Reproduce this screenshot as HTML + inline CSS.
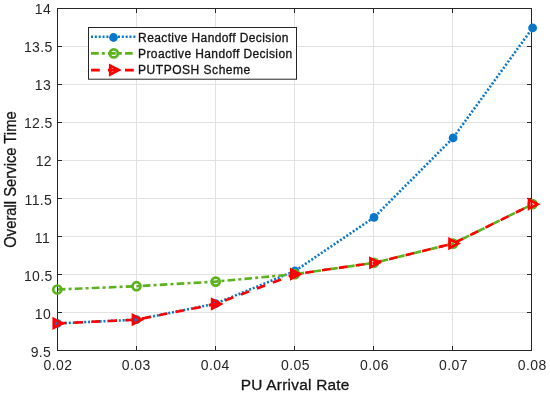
<!DOCTYPE html>
<html><head><meta charset="utf-8"><style>html,body{margin:0;padding:0;background:#fff;overflow:hidden}svg{display:block}</style></head>
<body><svg width="550" height="394" viewBox="0 0 550 394"><rect width="550" height="394" fill="#fff"/><path d="M136.50 8.5V350.5 M215.50 8.5V350.5 M294.50 8.5V350.5 M373.50 8.5V350.5 M452.50 8.5V350.5 M57.5 312.50H531.5 M57.5 274.50H531.5 M57.5 236.50H531.5 M57.5 198.50H531.5 M57.5 160.50H531.5 M57.5 122.50H531.5 M57.5 84.50H531.5 M57.5 46.50H531.5" stroke="#e2e2e2" stroke-width="1" fill="none"/><path d="M57.50 350.5v-4.5M57.50 8.5v4.5 M136.50 350.5v-4.5M136.50 8.5v4.5 M215.50 350.5v-4.5M215.50 8.5v4.5 M294.50 350.5v-4.5M294.50 8.5v4.5 M373.50 350.5v-4.5M373.50 8.5v4.5 M452.50 350.5v-4.5M452.50 8.5v4.5 M531.50 350.5v-4.5M531.50 8.5v4.5 M57.5 350.50h4.5M531.5 350.50h-4.5 M57.5 312.50h4.5M531.5 312.50h-4.5 M57.5 274.50h4.5M531.5 274.50h-4.5 M57.5 236.50h4.5M531.5 236.50h-4.5 M57.5 198.50h4.5M531.5 198.50h-4.5 M57.5 160.50h4.5M531.5 160.50h-4.5 M57.5 122.50h4.5M531.5 122.50h-4.5 M57.5 84.50h4.5M531.5 84.50h-4.5 M57.5 46.50h4.5M531.5 46.50h-4.5 M57.5 8.50h4.5M531.5 8.50h-4.5" stroke="#262626" stroke-width="1" fill="none"/><rect x="57.5" y="8.5" width="474.0" height="342.0" stroke="#262626" stroke-width="1" fill="none"/><text x="51.30" y="357.00" font-family="Liberation Sans, Arial, sans-serif" font-size="14" letter-spacing="0.4" text-anchor="end" fill="#262626">9.5</text><text x="51.20" y="319.10" font-family="Liberation Sans, Arial, sans-serif" font-size="14" letter-spacing="0.4" text-anchor="end" fill="#262626">10</text><text x="52.80" y="281.00" font-family="Liberation Sans, Arial, sans-serif" font-size="14" letter-spacing="0.4" text-anchor="end" fill="#262626">10.5</text><text x="50.10" y="243.10" font-family="Liberation Sans, Arial, sans-serif" font-size="14" letter-spacing="0.4" text-anchor="end" fill="#262626">11</text><text x="52.30" y="205.10" font-family="Liberation Sans, Arial, sans-serif" font-size="14" letter-spacing="0.4" text-anchor="end" fill="#262626">11.5</text><text x="52.00" y="165.90" font-family="Liberation Sans, Arial, sans-serif" font-size="14" letter-spacing="0.4" text-anchor="end" fill="#262626">12</text><text x="52.80" y="128.10" font-family="Liberation Sans, Arial, sans-serif" font-size="14" letter-spacing="0.4" text-anchor="end" fill="#262626">12.5</text><text x="51.10" y="90.20" font-family="Liberation Sans, Arial, sans-serif" font-size="14" letter-spacing="0.4" text-anchor="end" fill="#262626">13</text><text x="52.80" y="52.20" font-family="Liberation Sans, Arial, sans-serif" font-size="14" letter-spacing="0.4" text-anchor="end" fill="#262626">13.5</text><text x="51.10" y="14.20" font-family="Liberation Sans, Arial, sans-serif" font-size="14" letter-spacing="0.4" text-anchor="end" fill="#262626">14</text><text x="58.00" y="369.9" font-family="Liberation Sans, Arial, sans-serif" font-size="14" letter-spacing="0.4" text-anchor="middle" fill="#262626">0.02</text><text x="136.20" y="369.9" font-family="Liberation Sans, Arial, sans-serif" font-size="14" letter-spacing="0.4" text-anchor="middle" fill="#262626">0.03</text><text x="215.20" y="369.9" font-family="Liberation Sans, Arial, sans-serif" font-size="14" letter-spacing="0.4" text-anchor="middle" fill="#262626">0.04</text><text x="295.40" y="369.9" font-family="Liberation Sans, Arial, sans-serif" font-size="14" letter-spacing="0.4" text-anchor="middle" fill="#262626">0.05</text><text x="374.55" y="369.9" font-family="Liberation Sans, Arial, sans-serif" font-size="14" letter-spacing="0.4" text-anchor="middle" fill="#262626">0.06</text><text x="453.40" y="369.9" font-family="Liberation Sans, Arial, sans-serif" font-size="14" letter-spacing="0.4" text-anchor="middle" fill="#262626">0.07</text><text x="532.20" y="369.9" font-family="Liberation Sans, Arial, sans-serif" font-size="14" letter-spacing="0.4" text-anchor="middle" fill="#262626">0.08</text><text x="295.2" y="389.8" font-family="Liberation Sans, Arial, sans-serif" font-size="15.4" letter-spacing="0.25" text-anchor="middle" fill="#141414" stroke="#141414" stroke-width="0.3">PU Arrival Rate</text><text transform="translate(15.5 179.5) rotate(-90) scale(0.855 1)" font-family="Liberation Sans, Arial, sans-serif" font-size="17.3" text-anchor="middle" fill="#141414" stroke="#141414" stroke-width="0.3">Overall Service Time</text><polyline points="57.30,323.40 136.50,319.70 215.70,303.60 294.90,271.00 374.00,217.40 453.10,137.90 532.60,27.95" fill="none" stroke="#0b77ca" stroke-width="2.6" stroke-dasharray="2 1.85"/><circle cx="57.30" cy="323.40" r="4.4" fill="#0b77ca"/><circle cx="136.50" cy="319.70" r="4.4" fill="#0b77ca"/><circle cx="215.70" cy="303.60" r="4.4" fill="#0b77ca"/><circle cx="294.90" cy="271.00" r="4.4" fill="#0b77ca"/><circle cx="374.00" cy="217.40" r="4.4" fill="#0b77ca"/><circle cx="453.10" cy="137.90" r="4.4" fill="#0b77ca"/><circle cx="532.60" cy="27.95" r="4.4" fill="#0b77ca"/><polyline points="57.30,289.50 136.50,286.20 215.70,281.60 294.90,274.20" fill="none" stroke="#5cb21e" stroke-width="2.6" stroke-dasharray="7.7 3.1 3 3.2" stroke-dashoffset="16.5"/><polyline points="294.90,274.20 374.00,262.80 453.10,243.60 532.60,204.20" fill="none" stroke="#5cb21e" stroke-width="2.6" stroke-dasharray="7.7 3.1 3 3.2" stroke-dashoffset="15.35"/><circle cx="57.30" cy="289.50" r="4.0" fill="none" stroke="#5cb21e" stroke-width="2.7"/><circle cx="136.50" cy="286.20" r="4.0" fill="none" stroke="#5cb21e" stroke-width="2.7"/><circle cx="215.70" cy="281.60" r="4.0" fill="none" stroke="#5cb21e" stroke-width="2.7"/><circle cx="294.90" cy="274.20" r="4.0" fill="none" stroke="#5cb21e" stroke-width="2.7"/><circle cx="374.00" cy="262.80" r="4.0" fill="none" stroke="#5cb21e" stroke-width="2.7"/><circle cx="453.10" cy="243.60" r="4.0" fill="none" stroke="#5cb21e" stroke-width="2.7"/><circle cx="532.60" cy="204.20" r="4.0" fill="none" stroke="#5cb21e" stroke-width="2.7"/><polyline points="57.30,323.40 136.50,319.70 215.70,304.00 294.90,274.20 374.00,262.80 453.10,243.60 532.60,204.20" fill="none" stroke="#ff0000" stroke-width="2.6" stroke-dasharray="8.8 8.2"/><path d="M52.40,316.75 L65.20,323.40 L52.40,330.05ZM55.26,325.59 L59.48,323.40 L55.26,321.21Z" fill="#ff0000" fill-rule="evenodd"/><path d="M131.60,313.05 L144.40,319.70 L131.60,326.35ZM134.46,321.89 L138.68,319.70 L134.46,317.51Z" fill="#ff0000" fill-rule="evenodd"/><path d="M210.80,297.35 L223.60,304.00 L210.80,310.65ZM213.66,306.19 L217.88,304.00 L213.66,301.81Z" fill="#ff0000" fill-rule="evenodd"/><path d="M290.00,267.55 L302.80,274.20 L290.00,280.85ZM292.86,276.39 L297.08,274.20 L292.86,272.01Z" fill="#ff0000" fill-rule="evenodd"/><path d="M369.10,256.15 L381.90,262.80 L369.10,269.45ZM371.96,264.99 L376.18,262.80 L371.96,260.61Z" fill="#ff0000" fill-rule="evenodd"/><path d="M448.20,236.95 L461.00,243.60 L448.20,250.25ZM451.06,245.79 L455.28,243.60 L451.06,241.41Z" fill="#ff0000" fill-rule="evenodd"/><path d="M527.70,197.55 L540.50,204.20 L527.70,210.85ZM530.56,206.39 L534.78,204.20 L530.56,202.01Z" fill="#ff0000" fill-rule="evenodd"/><rect x="88.5" y="27.5" width="208" height="51.7" fill="#fff" stroke="#262626" stroke-width="1"/><line x1="91" y1="36.7" x2="135.5" y2="36.7" stroke="#0b77ca" stroke-width="2.6" stroke-dasharray="2 1.85"/><circle cx="113.5" cy="37.5" r="4.4" fill="#0b77ca"/><line x1="91" y1="53.4" x2="135.5" y2="53.4" stroke="#5cb21e" stroke-width="2.6" stroke-dasharray="7.7 3.1 3 3.2"/><circle cx="113.8" cy="53.4" r="4.0" fill="none" stroke="#5cb21e" stroke-width="2.7"/><line x1="91" y1="70.1" x2="135.5" y2="70.1" stroke="#ff0000" stroke-width="2.6" stroke-dasharray="8.8 8.2"/><path d="M108.90,63.45 L121.70,70.10 L108.90,76.75ZM111.76,72.29 L115.98,70.10 L111.76,67.91Z" fill="#ff0000" fill-rule="evenodd"/><text x="138.1" y="41.90" font-family="Liberation Sans, Arial, sans-serif" font-size="12" letter-spacing="0.38" fill="#141414" stroke="#141414" stroke-width="0.3">Reactive Handoff Decision</text><text x="138.1" y="57.80" font-family="Liberation Sans, Arial, sans-serif" font-size="12" letter-spacing="0.38" fill="#141414" stroke="#141414" stroke-width="0.3">Proactive Handoff Decision</text><text x="138.1" y="74.40" font-family="Liberation Sans, Arial, sans-serif" font-size="12" letter-spacing="0.52" fill="#141414" stroke="#141414" stroke-width="0.3">PUTPOSH Scheme</text></svg></body></html>
